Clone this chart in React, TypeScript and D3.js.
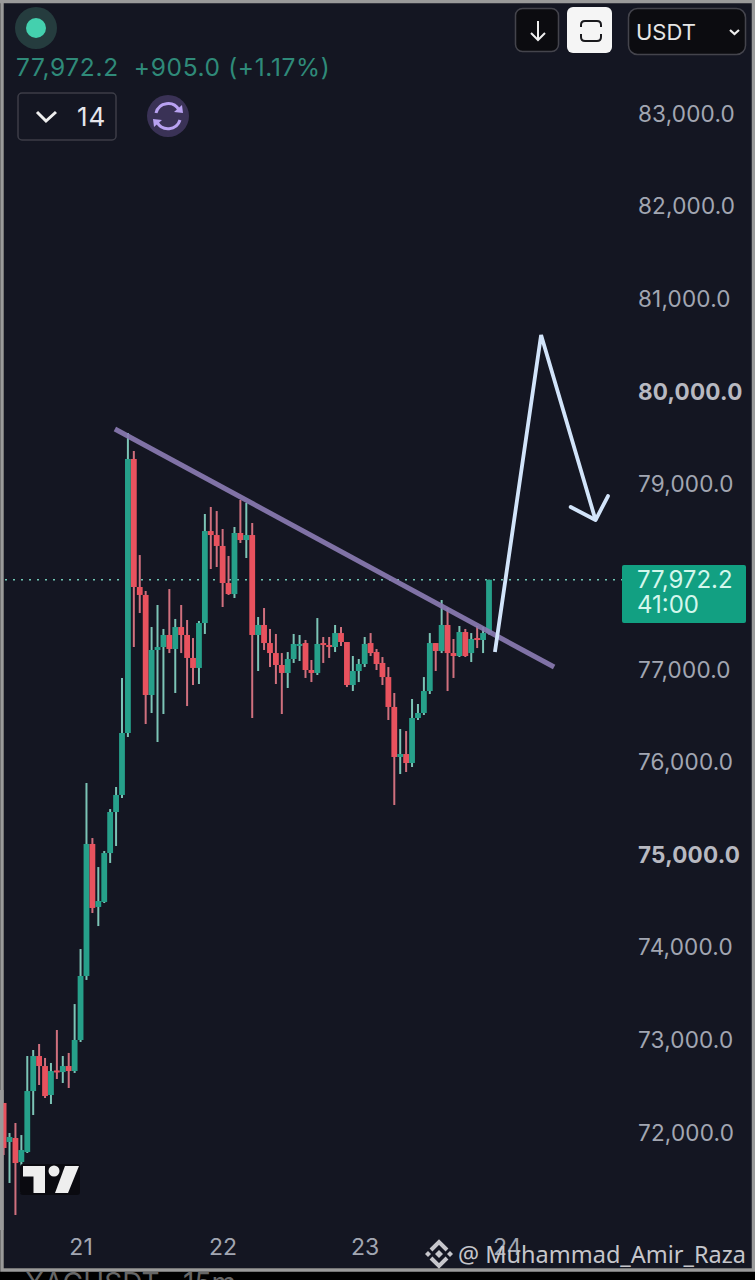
import { useEffect, useRef } from "react"
import * as d3 from "d3"

// hourly candles, oldest first
const opens = [72324,71903,71946,71687,71795,72453,72831,72723,72410,72675,72658,72723,72669,73004,73695,75120,74440,74494,75022,75465,75649,76318,79276,77894,77808,76728,77214,77246,77376,77225,77462,77376,77128,77020,77505,78498,78455,78337,77937,77818,78477,78401,78455,77376,77484,77289,77181,77052,76966,77117,77257,77289,76998,76966,77289,77268,77246,77397,77300,76836,76987,77063,77289,77192,77074,76922,76599,76059,76091,75994,76480,76534,76771,77289,77203,77484,77181,77149,77408,77181,77343,77322,77397]
const highs = [72324,72000,72108,71978,72831,72896,72961,72810,72756,73112,72831,72864,73392,73986,75778,75184,74871,75044,75497,75735,76912,79556,79362,78239,77851,77462,77700,77441,77872,77549,77700,77538,77343,77527,78682,78758,78714,78520,78229,78542,78833,78801,78585,77570,77667,77441,77387,77181,77192,77387,77376,77322,77106,77559,77354,77354,77484,77462,77300,77149,77117,77354,77397,77225,77138,77030,76750,76361,76339,76685,76631,76922,77397,77289,77754,77667,77333,77473,77441,77397,77473,77462,77972.2]
const lows = [71762,71460,71115,71352,71784,72194,72518,72378,72313,72583,72540,72486,72648,72982,73652,74375,74234,74483,74915,75098,75616,76275,77246,77613,76415,76534,76221,76523,77181,76750,77181,76609,76836,76847,77387,78088,78110,77678,77808,77775,78369,78207,76480,76987,77214,77030,76847,76523,76804,77074,77095,76912,76868,76944,77074,77128,77192,77257,76814,76771,76868,77030,77149,76998,76836,76458,75541,75875,75897,75951,76458,76512,76739,76987,77181,76771,76912,77138,77138,77084,77235,77181,77380]
const closes = [71838,71957,71676,71816,72453,72831,72723,72399,72669,72664,72723,72669,73004,73695,75120,74429,74504,75022,75465,75649,76318,79276,77894,77808,76728,77214,77246,77376,77225,77462,77376,77128,77020,77505,78498,78455,78337,77937,77818,78477,78401,78455,77376,77484,77289,77181,77052,76966,77117,77279,77279,76998,76966,77279,77268,77246,77397,77300,76836,76987,77063,77279,77181,77063,76922,76599,76059,76091,75994,76480,76534,76771,77289,77203,77484,77181,77149,77408,77149,77333,77322,77397,77972.2]

const lastPrice = 77972.2
const priceTicks = [72000,73000,74000,75000,76000,77000,79000,80000,81000,82000,83000]
const boldTicks = [75000, 80000]
const dayTicks = [13, 37, 61, 85]
const dayLabels = ["21", "22", "23", "24"]

// drawings on the chart as [candle index, price]
const trendLine: [number, number][] = [[18.8, 79600], [93, 77030]]
const arrowPath: [number, number][] = [[83, 77192], [90.8, 80614], [100, 78617]]
const arrowHead: [number, number][] = [[95.8, 78758], [100, 78617], [102.1, 78876]]

const bg = "#141622"
const green = "#26a08a"
const red = "#e8525e"
const greenWick = "#7cc4b6"
const redWick = "#d0707e"
const axisColor = "#a2a6b2"
const uiFont = "Inter, 'Noto Sans', sans-serif"

export default function App() {
  const svgRef = useRef<SVGSVGElement>(null)

  useEffect(() => {
    if (!svgRef.current) return
    document.body.style.margin = "0"

    const svg = d3.select(svgRef.current)
    svg.selectAll("*").remove()

    // scales
    const x = d3.scaleLinear().domain([0, 82]).range([3.6, 489])
    const y = d3.scaleLinear().domain([72000, 83000]).range([1133, 114])

    // page and frame
    svg.append("rect").attr("width", 755).attr("height", 1280).attr("fill", "#000")
    svg.append("rect").attr("x", 4).attr("y", 3).attr("width", 748).attr("height", 1265).attr("fill", bg)
    svg
      .append("path")
      .attr("d", "M0,1.5H753.5V1270H2V1.5")
      .attr("fill", "none")
      .attr("stroke", "#9a9a9a")
      .attr("stroke-width", 3.5)
    svg.append("rect").attr("x", 0).attr("y", 1272).attr("width", 755).attr("height", 8).attr("fill", "#000")
    svg
      .append("text")
      .attr("x", 25)
      .attr("y", 1293)
      .attr("font-family", uiFont)
      .attr("font-size", 28)
      .attr("fill", "#666")
      .text("XAGUSDT")
    svg
      .append("text")
      .attr("x", 183)
      .attr("y", 1293)
      .attr("font-family", uiFont)
      .attr("font-size", 28)
      .attr("fill", "#666")
      .text("15m")

    // last price dotted line
    svg
      .append("line")
      .attr("x1", 5)
      .attr("x2", 622)
      .attr("y1", y(lastPrice))
      .attr("y2", y(lastPrice))
      .attr("stroke", "#6fc7b5")
      .attr("stroke-width", 1.5)
      .attr("stroke-dasharray", "2,6")

    const plot = svg.append("g")
    const candles = d3.range(opens.length)

    // wicks
    plot
      .selectAll(".wick")
      .data(candles)
      .enter()
      .append("line")
      .attr("class", "wick")
      .attr("x1", (i) => x(i))
      .attr("x2", (i) => x(i))
      .attr("y1", (i) => y(highs[i]))
      .attr("y2", (i) => y(lows[i]))
      .attr("stroke", (i) => (closes[i] >= opens[i] ? greenWick : redWick))
      .attr("stroke-width", 2)

    // bodies
    plot
      .selectAll(".body")
      .data(candles)
      .enter()
      .append("rect")
      .attr("class", "body")
      .attr("x", (i) => x(i) - 2.9)
      .attr("width", 5.8)
      .attr("y", (i) => y(Math.max(opens[i], closes[i])))
      .attr("height", (i) => Math.max(2, Math.abs(y(opens[i]) - y(closes[i]))))
      .attr("fill", (i) => (closes[i] >= opens[i] ? green : red))

    // left border goes back over the first candle
    svg.append("rect").attr("x", 0).attr("y", 1090).attr("width", 3.5).attr("height", 140).attr("fill", "#9a9a9a")

    const line = d3
      .line<[number, number]>()
      .x((d) => x(d[0]))
      .y((d) => y(d[1]))

    svg
      .append("path")
      .attr("d", line(trendLine))
      .attr("fill", "none")
      .attr("stroke", "#8a7bb2")
      .attr("stroke-width", 5)
      .attr("stroke-opacity", 0.92)

    svg
      .append("path")
      .attr("d", line(arrowPath))
      .attr("fill", "none")
      .attr("stroke", "#d2e4fa")
      .attr("stroke-width", 3.8)
      .attr("stroke-linejoin", "miter")
    svg
      .append("path")
      .attr("d", line(arrowHead))
      .attr("fill", "none")
      .attr("stroke", "#d2e4fa")
      .attr("stroke-width", 3.8)
      .attr("stroke-linecap", "round")
      .attr("stroke-linejoin", "round")

    // price axis
    const yAxis = svg
      .append("g")
      .attr("transform", "translate(638,0)")
      .call(
        d3
          .axisRight(y)
          .tickValues(priceTicks)
          .tickSize(0)
          .tickPadding(0)
          .tickFormat((d) => d3.format(",.1f")(d as number)),
      )
    yAxis.select(".domain").remove()
    yAxis
      .selectAll<SVGTextElement, number>("text")
      .attr("font-family", uiFont)
      .attr("font-size", 22.5)
      .attr("font-weight", (d) => (boldTicks.includes(d) ? 700 : 400))
      .attr("letter-spacing", 0.2)
      .attr("fill", (d) => (boldTicks.includes(d) ? "#b8b9c1" : axisColor))

    // time axis
    const xAxis = svg
      .append("g")
      .attr("transform", "translate(0,1239)")
      .call(
        d3
          .axisBottom(x)
          .tickValues(dayTicks)
          .tickSize(0)
          .tickPadding(0)
          .tickFormat((_, i) => dayLabels[i]),
      )
    xAxis.select(".domain").remove()
    xAxis
      .selectAll("text")
      .attr("font-family", uiFont)
      .attr("font-size", 23)
      .attr("fill", axisColor)

    // last price tag
    svg.append("rect").attr("x", 622).attr("y", 565).attr("width", 124).attr("height", 58).attr("rx", 2).attr("fill", "#12a082")
    svg
      .append("text")
      .attr("x", 637)
      .attr("y", 588)
      .attr("font-family", uiFont)
      .attr("font-size", 24)
      .attr("fill", "#d4f7ec")
      .text(d3.format(",.1f")(lastPrice))
    svg
      .append("text")
      .attr("x", 637)
      .attr("y", 613)
      .attr("font-family", uiFont)
      .attr("font-size", 24)
      .attr("fill", "#d4f7ec")
      .text("41:00")

    // header
    svg.append("circle").attr("cx", 36).attr("cy", 28).attr("r", 21).attr("fill", "#253c3e")
    svg.append("circle").attr("cx", 36).attr("cy", 28).attr("r", 10).attr("fill", "#44d0ae")
    svg
      .append("text")
      .attr("x", 16)
      .attr("y", 76)
      .attr("font-family", uiFont)
      .attr("font-size", 24.5)
      .attr("letter-spacing", 0.65)
      .attr("fill", "#2f8a79")
      .attr("xml:space", "preserve")
      .text("77,972.2  +905.0 (+1.17%)")

    svg
      .append("rect")
      .attr("x", 18)
      .attr("y", 93)
      .attr("width", 98)
      .attr("height", 47)
      .attr("rx", 4)
      .attr("fill", "none")
      .attr("stroke", "#3c3d47")
      .attr("stroke-width", 1.5)
    svg
      .append("path")
      .attr("d", "M37,112L46,121L56,112")
      .attr("fill", "none")
      .attr("stroke", "#eee")
      .attr("stroke-width", 3)
    svg
      .append("text")
      .attr("x", 77)
      .attr("y", 126)
      .attr("font-family", uiFont)
      .attr("font-size", 26)
      .attr("letter-spacing", 1)
      .attr("fill", "#e6e6ec")
      .text("14")

    // replay badge
    svg.append("circle").attr("cx", 168).attr("cy", 116).attr("r", 21).attr("fill", "#3a3256")
    const badge = svg
      .append("g")
      .attr("fill", "none")
      .attr("stroke", "#b9a2f2")
      .attr("stroke-width", 3)
    badge.append("path").attr("d", "M156,113A12.5,12.5,0,0,1,179,110")
    badge.append("path").attr("d", "M180,120A12.5,12.5,0,0,1,157,122")
    svg.append("path").attr("d", "M174,112L183,113L182,105Z").attr("fill", "#b9a2f2")
    svg.append("path").attr("d", "M162,120L153,119L154,127Z").attr("fill", "#b9a2f2")

    // top right buttons
    svg
      .append("rect")
      .attr("x", 515.5)
      .attr("y", 8.5)
      .attr("width", 43)
      .attr("height", 43)
      .attr("rx", 7)
      .attr("fill", "#0c0c10")
      .attr("stroke", "#44444c")
      .attr("stroke-width", 1.5)
    svg
      .append("path")
      .attr("d", "M538,21V40M531,33L538,40L545,33")
      .attr("fill", "none")
      .attr("stroke", "#eee")
      .attr("stroke-width", 2)

    svg.append("rect").attr("x", 567).attr("y", 7).attr("width", 45).attr("height", 46).attr("rx", 6).attr("fill", "#f5f5f5")
    svg
      .append("path")
      .attr("d", "M581,27V25Q581,21,585,21H597Q601,21,601,25V27M581,34V37Q581,41,585,41H597Q601,41,601,37V34")
      .attr("fill", "none")
      .attr("stroke", "#1a1a1e")
      .attr("stroke-width", 2)

    svg
      .append("rect")
      .attr("x", 628.5)
      .attr("y", 8.5)
      .attr("width", 117)
      .attr("height", 46)
      .attr("rx", 9)
      .attr("fill", "#0c0c10")
      .attr("stroke", "#44444c")
      .attr("stroke-width", 1.5)
    svg
      .append("text")
      .attr("x", 636)
      .attr("y", 40)
      .attr("font-family", uiFont)
      .attr("font-size", 22)
      .attr("fill", "#e6e6e6")
      .text("USDT")
    svg
      .append("path")
      .attr("d", "M730,30L734.5,34L739,30")
      .attr("fill", "none")
      .attr("stroke", "#eee")
      .attr("stroke-width", 2.2)

    // TradingView logo
    const logo = svg.append("g")
    logo.append("rect").attr("x", 20).attr("y", 1164).attr("width", 60).attr("height", 31).attr("rx", 3).attr("fill", "#0a0a10")
    logo.append("path").attr("d", "M23,1166H45V1193H33.5V1176.5H23Z").attr("fill", "#eeeeee")
    logo.append("circle").attr("cx", 54).attr("cy", 1171).attr("r", 5.5).attr("fill", "#eeeeee")
    logo.append("path").attr("d", "M65,1166H79L68,1193H55Z").attr("fill", "#eeeeee")

    // watermark
    const mark = svg.append("g")
    mark
      .append("path")
      .attr("d", "M431,1250L439,1242L447,1250M431,1258L439,1266L447,1258")
      .attr("fill", "none")
      .attr("stroke", "#c6c6cb")
      .attr("stroke-width", 4)
    const gems: [number, number, number][] = [[428, 1254, 3], [439, 1254, 4], [450, 1254, 3]]
    gems.forEach(([cx, cy, r]) => {
      mark
        .append("path")
        .attr("d", `M${cx - r},${cy}L${cx},${cy - r}L${cx + r},${cy}L${cx},${cy + r}Z`)
        .attr("fill", "#c6c6cb")
    })
    svg
      .append("text")
      .attr("x", 458)
      .attr("y", 1263)
      .attr("font-family", "'Noto Sans', sans-serif")
      .attr("font-size", 23.5)
      .attr("fill", "#c6c6cb")
      .text("@ Muhammad_Amir_Raza")
  }, [])

  return <svg ref={svgRef} width={755} height={1280} style={{ display: "block" }}></svg>
}
